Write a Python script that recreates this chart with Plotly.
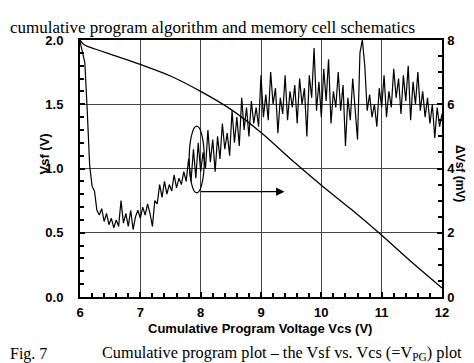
import plotly.graph_objects as go

# Smooth Vsf curve (left axis, V)
vcs_smooth = [6.00, 6.05, 6.10, 6.25, 6.50, 7.00, 7.50, 8.00, 8.50, 9.00, 9.50, 10.00, 10.50, 11.00, 11.50, 12.00]
vsf_smooth = [2.00, 1.97, 1.955, 1.93, 1.89, 1.81, 1.72, 1.60, 1.46, 1.28, 1.07, 0.87, 0.68, 0.48, 0.27, 0.07]

# Noisy delta-Vsf curve (right axis, mV)
vcs_noisy = [6.00, 6.04, 6.08, 6.12, 6.16, 6.20, 6.24, 6.28, 6.32, 6.36, 6.40, 6.44, 6.48, 6.52, 6.56, 6.60,
             6.64, 6.68, 6.72, 6.76, 6.80, 6.84, 6.88, 6.92, 6.96, 7.00, 7.04, 7.08, 7.12, 7.16, 7.20,
             7.24, 7.28, 7.32, 7.36, 7.40, 7.44, 7.48, 7.52, 7.56, 7.60, 7.64, 7.68, 7.72, 7.76, 7.80,
             7.84, 7.88, 7.92, 7.96, 8.00, 8.04, 8.08, 8.12, 8.16, 8.20, 8.24, 8.28, 8.32, 8.36, 8.40,
             8.44, 8.48, 8.52, 8.56, 8.60, 8.64, 8.68, 8.72, 8.76, 8.80, 8.84, 8.88, 8.92, 8.96, 9.00,
             9.04, 9.08, 9.12, 9.16, 9.20, 9.24, 9.28, 9.32, 9.36, 9.40, 9.44, 9.48, 9.52, 9.56, 9.60,
             9.64, 9.68, 9.72, 9.76, 9.80, 9.84, 9.88, 9.92, 9.96, 10.00, 10.04, 10.08, 10.12, 10.16,
             10.20, 10.24, 10.28, 10.32, 10.36, 10.40, 10.44, 10.48, 10.52, 10.56, 10.60, 10.64, 10.68,
             10.72, 10.76, 10.80, 10.84, 10.88, 10.92, 10.96, 11.00, 11.04, 11.08, 11.12, 11.16, 11.20,
             11.24, 11.28, 11.32, 11.36, 11.40, 11.44, 11.48, 11.52, 11.56, 11.60, 11.64, 11.68, 11.72,
             11.76, 11.80, 11.84, 11.88, 11.92, 11.96, 12.00]
dvsf_noisy = [7.95, 7.6, 7.3, 5.8, 4.1, 3.45, 3.3, 2.7, 2.55, 2.75, 2.35, 2.6, 2.25, 2.45, 2.15, 2.4,
              2.2, 3.0, 2.3, 2.6, 2.2, 2.7, 2.1, 2.5, 2.7, 2.45, 2.8, 2.55, 2.9, 2.6, 2.2,
              3.0, 2.9, 3.5, 3.1, 3.6, 3.2, 3.5, 3.3, 3.8, 3.4, 3.7, 3.5, 3.9, 3.6, 4.3,
              3.6, 4.6, 3.7, 4.8, 3.9, 4.5, 4.0, 5.2, 4.2, 4.9, 3.9, 5.0, 4.3, 5.4, 4.6,
              5.1, 4.4, 5.8, 4.8, 5.6, 4.7, 6.2, 5.2, 5.9, 5.0, 6.1, 5.4, 5.9, 5.3, 6.9,
              5.6, 6.3, 5.5, 7.0, 6.0, 6.5, 5.1, 6.2, 5.7, 6.9, 5.5, 6.4, 5.9, 6.6, 5.4,
              6.8, 6.0, 6.5, 5.0, 6.9, 6.2, 7.75, 5.8, 6.7, 5.6, 7.1, 6.1, 7.4, 5.4,
              6.4, 5.9, 7.0, 5.8, 6.6, 4.7, 6.2, 5.5, 6.8, 5.9, 4.9, 7.6, 8.0,
              7.2, 5.8, 6.3, 5.6, 6.0, 5.3, 6.5, 5.9, 6.9, 5.6, 6.4, 5.9, 7.1,
              6.2, 6.8, 5.7, 6.9, 6.1, 7.2, 5.5, 6.7, 6.0, 7.0, 5.8, 6.4, 5.6,
              6.2, 5.4, 6.0, 4.95, 5.9, 5.3, 5.7]

x_ticks = [6, 7, 8, 9, 10, 11, 12]
y_ticks = [0.0, 0.5, 1.0, 1.5, 2.0]
y2_ticks = [0, 2, 4, 6, 8]

L, R, T, B = 72, 40, 32, 74
W, H = 474, 363
PW, PH = W - L - R, H - T - B


def px(x):
    return (x - L) / PW


def py(y):
    return (H - B - y) / PH


fig = go.Figure()
fig.add_trace(go.Scatter(x=vcs_smooth, y=vsf_smooth, mode="lines", line=dict(color="black", width=1.3),
                         yaxis="y", showlegend=False, line_shape="spline"))
fig.add_trace(go.Scatter(x=vcs_noisy, y=dvsf_noisy, mode="lines", line=dict(color="black", width=1.2),
                         yaxis="y2", showlegend=False))

tf = dict(family="Liberation Sans, Arial, sans-serif", size=13, color="black", weight="bold")

fig.update_layout(
    width=W, height=H,
    margin=dict(l=L, r=R, t=T, b=B),
    paper_bgcolor="white", plot_bgcolor="white",
    xaxis=dict(range=[6, 12], tickvals=x_ticks, ticktext=[str(v) for v in x_ticks],
               ticks="inside", ticklen=5, tickcolor="black", tickwidth=1.5,
               minor=dict(dtick=0.2, ticks="inside", ticklen=4, tickcolor="black"),
               showline=True, linecolor="black", linewidth=2, mirror=True,
               showgrid=True, gridcolor="#444", gridwidth=1,
               tickfont=tf, ticklabelstandoff=2, zeroline=False),
    yaxis=dict(range=[0, 2], tickvals=y_ticks, ticktext=["0.0", "0.5", "1.0", "1.5", "2.0"],
               ticks="inside", ticklen=5, tickcolor="black", tickwidth=1.5,
               minor=dict(dtick=0.1, ticks="inside", ticklen=4, tickcolor="black"),
               showline=True, linecolor="black", linewidth=2,
               showgrid=True, gridcolor="#444", gridwidth=1,
               tickfont=tf, ticklabelstandoff=12, zeroline=False),
    yaxis2=dict(range=[0, 8], tickvals=y2_ticks, ticktext=["0", "2", "4", "6", "8"],
                overlaying="y", side="right",
                ticks="inside", ticklen=5, tickcolor="black", tickwidth=1.5,
                minor=dict(dtick=0.5, ticks="inside", ticklen=4, tickcolor="black"),
                showline=True, linecolor="black", linewidth=1.5,
                showgrid=False, zeroline=False,
                tickfont=tf, ticklabelstandoff=1),
)

# ellipse highlighting noisy curve
fig.add_shape(type="circle", xref="x", yref="y", x0=7.81, x1=8.06, y0=0.81, y1=1.33,
              line=dict(color="black", width=1.2))
# arrow pointing right
fig.add_annotation(x=9.39, y=0.82, ax=7.98, ay=0.82, xref="x", yref="y", axref="x", ayref="y",
                   showarrow=True, arrowhead=2, arrowsize=1.3, arrowwidth=1.3, arrowcolor="black", text="")

fig.add_annotation(text="Vsf (V)", x=px(26), y=py(146), xref="paper", yref="paper",
                   showarrow=False, textangle=-90, font=tf)
fig.add_annotation(text="ΔVsf (mV)", x=px(461), y=py(165), xref="paper", yref="paper",
                   showarrow=False, textangle=90, font=dict(tf, size=12))
fig.add_annotation(text="Cumulative Program Voltage Vcs (V)", x=px(252), y=py(330), xref="paper", yref="paper",
                   showarrow=False, font=tf)

serif = dict(family="Liberation Serif, Times New Roman, serif", size=17, color="black")
fig.add_annotation(text="cumulative program algorithm and memory cell schematics", x=px(0), y=py(8),
                   xref="paper", yref="paper", xanchor="left", showarrow=False, font=serif)
fig.add_annotation(text="Fig. 7", x=px(0), y=py(357), xref="paper", yref="paper", xanchor="left",
                   showarrow=False, font=dict(serif, size=16))
fig.add_annotation(text="Cumulative program plot – the Vsf vs. Vcs (=V<sub>PG</sub>) plot", x=px(92), y=py(357),
                   xref="paper", yref="paper", xanchor="left", showarrow=False, font=dict(serif, size=16.3))

fig.write_html("out.html")
